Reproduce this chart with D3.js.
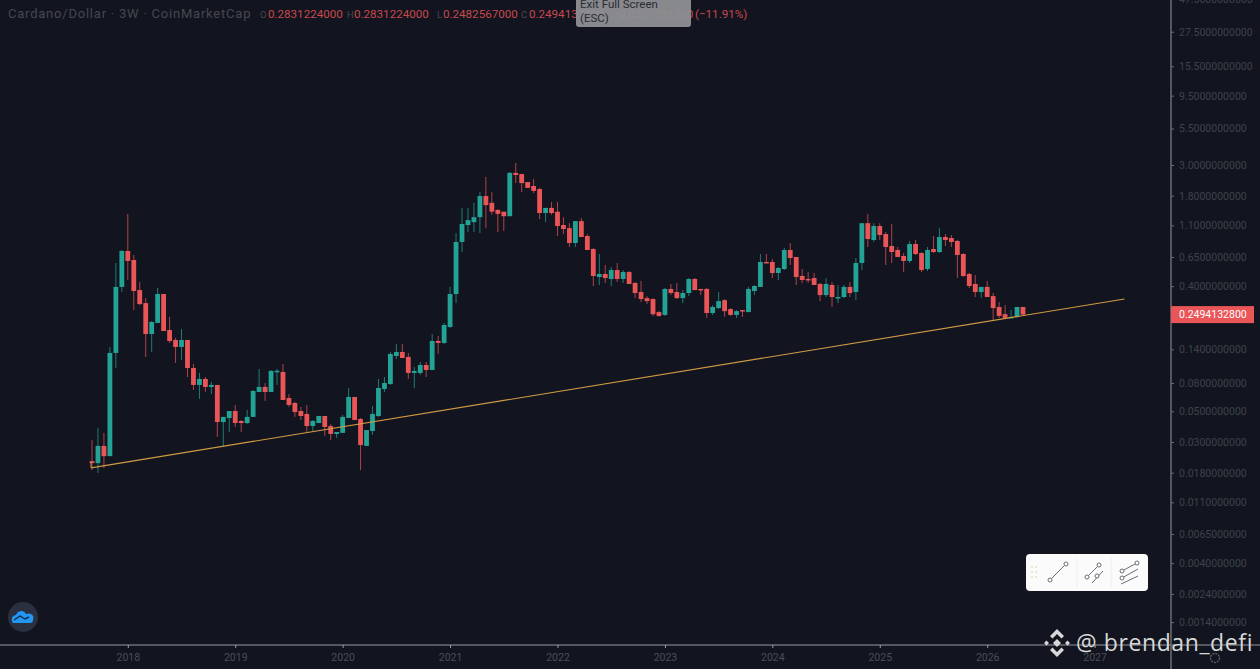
<!DOCTYPE html>
<html><head><meta charset="utf-8">
<script src="https://cdnjs.cloudflare.com/ajax/libs/d3/7.8.5/d3.min.js"></script>
<style>
html,body{margin:0;padding:0;background:#12151f;overflow:hidden}
svg{display:block;font-family:Roboto,sans-serif}
</style></head><body>
<svg id="c" width="1260" height="669"></svg>
<script>
const opens=[.0218,.0211,.0281,.0237,.1318,.395,.718,.618,.375,.302,.1806,.217,.351,.193,.1635,.1456,.1635,.1027,.0774,.0855,.0749,.0774,.0418,.0447,.0502,.0425,.0411,.0455,.0689,.0749,.0689,.0961,.0961,.0623,.0574,.0502,.0478,.0391,.0411,.0462,.0391,.0343,.0349,.0447,.0634,.044,.0281,.036,.0462,.0724,.0787,.1253,.134,.1233,.0945,.0945,.1079,.0993,.1608,.1556,.203,.351,.834,1.105,1.16,1.26,1.79,1.60,1.42,1.38,1.28,2.63,2.58,2.26,2.115,2.01,1.35,1.47,1.38,1.105,1.05,.82,1.18,.921,.742,.466,.49,.451,.523,.451,.506,.422,.363,.328,.323,.26,.248,.382,.363,.328,.357,.451,.382,.382,.256,.278,.317,.273,.248,.269,.26,.369,.395,.598,.598,.498,.532,.73,.65,.474,.451,.458,.415,.345,.408,.328,.334,.395,.363,.588,1.14,.862,1.087,.952,.78,.73,.661,.608,.806,.694,.532,.742,.706,.906,.891,.848,.683,.49,.415,.363,.395,.339,.283,.251,.236,.24,.2831];
const highs=[.031,.0379,.0349,.1456,.588,.73,1.33,.672,.429,.328,.224,.388,.351,.24,.169,.196,.1635,.1097,.0945,.0884,.0814,.0774,.0455,.0502,.0555,.0432,.0511,.0712,.101,.08,.0993,.101,.1097,.0666,.0583,.0537,.0555,.0432,.0462,.0462,.0405,.0354,.047,.0736,.0634,.0447,.0366,.0546,.0855,.0884,.134,.153,.153,.1318,.1044,.1134,.1134,.1806,.1747,.217,.395,.967,1.47,1.47,1.60,1.91,2.46,1.91,1.44,1.38,2.67,3.10,2.58,2.26,2.38,2.05,1.47,1.62,1.62,1.26,1.14,1.18,1.24,.952,.754,.683,.569,.55,.588,.523,.515,.429,.436,.339,.328,.264,.388,.415,.422,.375,.458,.458,.382,.388,.292,.363,.323,.278,.269,.269,.395,.408,.683,.683,.628,.55,.754,.82,.65,.532,.506,.498,.422,.458,.429,.408,.408,.429,.639,1.14,1.33,1.14,1.14,.984,1.125,.767,.694,.848,.862,.706,.767,.921,1.05,.952,.937,.862,.694,.498,.482,.395,.436,.357,.307,.292,.269,.283,.2831];
const lows=[.0188,.0179,.0194,.0237,.1027,.363,.443,.269,.292,.1233,.134,.217,.1898,.1556,.1116,.1173,.0884,.0712,.0613,.0689,.0666,.0326,.0276,.0354,.0385,.0354,.0405,.0455,.0689,.0593,.0689,.0774,.0603,.0537,.0455,.0432,.0354,.036,.0411,.0332,.031,.0321,.0349,.0447,.0432,.0188,.0281,.0337,.0455,.0689,.0774,.1192,.1212,.0855,.0736,.0914,.0884,.0993,.1296,.153,.2,.302,.706,.984,.984,.967,1.05,1.31,.984,1.00,1.28,2.22,1.91,2.05,1.88,1.22,1.16,1.31,.921,.952,.767,.767,.906,.73,.401,.408,.422,.401,.429,.422,.415,.328,.307,.297,.244,.24,.244,.345,.323,.302,.339,.375,.345,.236,.248,.273,.24,.244,.236,.24,.26,.345,.395,.588,.458,.443,.523,.569,.408,.422,.422,.408,.312,.334,.283,.302,.328,.334,.317,.523,.767,.834,.862,.569,.588,.65,.506,.588,.672,.506,.515,.694,.694,.78,.767,.458,.466,.388,.334,.328,.334,.228,.236,.232,.236,.236,.2483];
const closes=[.0211,.0281,.0237,.1318,.395,.718,.608,.369,.297,.1806,.2205,.351,.1898,.1608,.1456,.1635,.1027,.0774,.0855,.0749,.0774,.0418,.0455,.0502,.0411,.0411,.0455,.07,.0749,.0689,.0977,.098,.0603,.0555,.0494,.0462,.0391,.0425,.0462,.0385,.0343,.0354,.0455,.0634,.0432,.0285,.0366,.0478,.0736,.08,.1296,.134,.1212,.0945,.0977,.1079,.0993,.1608,.1556,.2098,.351,.834,1.125,1.20,1.26,1.79,1.54,1.38,1.33,1.28,2.63,2.54,2.22,2.05,1.95,1.35,1.47,1.35,1.087,1.035,.82,1.18,.906,.73,.474,.49,.458,.523,.451,.506,.415,.357,.323,.312,.251,.244,.382,.357,.328,.357,.451,.375,.375,.256,.283,.312,.264,.248,.264,.264,.382,.401,.598,.588,.498,.541,.73,.639,.466,.443,.443,.408,.345,.415,.334,.334,.395,.357,.588,1.14,.876,1.087,.937,.767,.706,.65,.608,.806,.683,.523,.73,.706,.906,.862,.834,.672,.474,.401,.363,.395,.334,.278,.244,.236,.24,.283,.2494];

const priceTicks=[47.5,27.5,15.5,9.5,5.5,3,1.8,1.1,.65,.4,.14,.08,.05,.03,.018,.011,.0065,.004,.0024,.0015];
const priceTickLabels=["47.5000000000","27.5000000000","15.5000000000","9.5000000000","5.5000000000","3.0000000000","1.8000000000","1.1000000000","0.6500000000","0.4000000000","0.1400000000","0.0800000000","0.0500000000","0.0300000000","0.0180000000","0.0110000000","0.0065000000","0.0040000000","0.0024000000","0.0014000000"];
const yearBars=[6,24,42,60,78,96,114,132,150,168];
const yearLabels=["2018","2019","2020","2021","2022","2023","2024","2025","2026","2027"];
const trendBars=[0,173];
const trendPrices=[.0195,.323];
const lastPrice=.2494;
const lastPriceLabel="0.2494132800";

const UP="#22a396",DOWN="#ea5558",BG="#12151f",AXIS="#6b6e7a",TXT="#3f424c";
const svg=d3.select("#c");
svg.append("rect").attr("width",1260).attr("height",669).attr("fill",BG);

const x=d3.scaleLinear().domain([0,156]).range([92,1023]);
const y=d3.scaleLog().domain([46.6,.001026]).range([0,645]);
const bars=d3.range(opens.length).map(i=>({i,o:opens[i],h:highs[i],l:lows[i],c:closes[i]}));
const col=d=>d.c>=d.o?UP:DOWN;

// axes
const ax=svg.append("g").attr("transform","translate(1171,0)").call(
  d3.axisRight(y).tickValues(priceTicks).tickSize(3).tickPadding(5)
    .tickFormat((d,i)=>priceTickLabels[i]));
ax.select(".domain").attr("stroke",AXIS).attr("stroke-width",1.5).attr("d","M0,0V669");
ax.selectAll("line").attr("stroke",AXIS);
ax.selectAll("text").attr("fill",TXT).attr("font-size",10.5).attr("font-family","Roboto,sans-serif");

const bx=svg.append("g").attr("transform","translate(0,645)").call(
  d3.axisBottom(x).tickValues(yearBars).tickSize(3).tickPadding(6)
    .tickFormat((d,i)=>yearLabels[i]));
bx.select(".domain").attr("stroke",AXIS).attr("stroke-width",1.5).attr("d","M0,0H1260");
bx.selectAll("line").attr("stroke","#9a9ca6");
bx.selectAll("text").attr("fill","#4a4d58").attr("font-size",10.5).attr("font-family","Roboto,sans-serif");

// candles
const g=svg.append("g");
g.selectAll("line.w").data(bars).join("line").attr("class","w")
  .attr("x1",d=>x(d.i)).attr("x2",d=>x(d.i)).attr("y1",d=>y(d.h)).attr("y2",d=>y(d.l))
  .attr("stroke",col).attr("stroke-opacity",.72).attr("stroke-width",1);
g.selectAll("rect.b").data(bars).join("rect").attr("class","b")
  .attr("x",d=>x(d.i)-2.4).attr("width",4.8)
  .attr("y",d=>y(Math.max(d.o,d.c)))
  .attr("height",d=>Math.max(1.5,y(Math.min(d.o,d.c))-y(Math.max(d.o,d.c))))
  .attr("fill",col);

// trend line
svg.append("line")
  .attr("x1",x(trendBars[0])-1).attr("y1",y(trendPrices[0]))
  .attr("x2",x(trendBars[1])).attr("y2",y(trendPrices[1]))
  .attr("stroke","#d19a45").attr("stroke-width",1.1);
svg.append("line").attr("x1",x(0)-1).attr("x2",x(0)-1).attr("y1",y(trendPrices[0])-6).attr("y2",y(trendPrices[0]))
  .attr("stroke","#d19a45").attr("stroke-width",1);

// last price tag
const ly=y(lastPrice);
svg.append("rect").attr("x",1171).attr("y",ly-8.5).attr("width",83).attr("height",17).attr("fill",DOWN);
svg.append("text").attr("x",1179).attr("y",ly+3.8).attr("fill","#fff").attr("font-size",10.5).text(lastPriceLabel);

// header
const hdr=svg.append("g").attr("font-size",11.6);
hdr.append("text").attr("x",8).attr("y",18).attr("fill","#454852").attr("font-size",13).attr("letter-spacing",.78).text("Cardano/Dollar · 3W · CoinMarketCap");
[["O",260,"0.2831224000",268],["H",347,"0.2831224000",354],["L",437,"0.2482567000",443],["C",521,"0.2494132800",529]].forEach(a=>{
  hdr.append("text").attr("x",a[1]).attr("y",18).attr("fill","#454852").attr("font-size",9.5).text(a[0]);
  hdr.append("text").attr("x",a[3]).attr("y",18).attr("fill","#c9484c").text(a[2]);
});
hdr.append("text").attr("x",612).attr("y",18).attr("fill","#c9484c").text("−0.0337091200");
hdr.append("text").attr("x",695).attr("y",18).attr("fill","#c9484c").text("(−11.91%)");
svg.append("path").attr("d","M576,0H691V24a3,3 0 0 1 -3,3H579a3,3 0 0 1 -3,-3Z").attr("fill","#8f9095").attr("fill-opacity",.94);
svg.append("text").attr("x",580).attr("y",8).attr("fill","#2a2c33").attr("font-size",11.5).text("Exit Full Screen");
svg.append("text").attr("x",580).attr("y",22).attr("fill","#2a2c33").attr("font-size",11.5).text("(ESC)");

// cloud logo
svg.append("circle").attr("cx",23).attr("cy",617).attr("r",15).attr("fill","#2a3040");
svg.append("path").attr("d","M13,623c-3,-4 0,-8 3,-8c2,-5 8,-5 10,-1c5,-2 9,2 7,6c0,2 -1,3 -3,3Z").attr("fill","#2196f3");
svg.append("path").attr("d","M14,620l6,-4l5,3l4,-2").attr("fill","none").attr("stroke","#0f2a44").attr("stroke-width",1.4);

// drawing toolbar
const tb=svg.append("g");
tb.append("rect").attr("x",1026).attr("y",554).attr("width",122).attr("height",37).attr("rx",4).attr("fill","#fbfbfb");
[1077,1111].forEach(v=>tb.append("line").attr("x1",v).attr("x2",v).attr("y1",558).attr("y2",587).attr("stroke","#eeeeee"));
[[1032,567],[1036,567],[1032,572],[1036,572],[1032,577],[1036,577]].forEach(p=>tb.append("circle").attr("cx",p[0]).attr("cy",p[1]).attr("r",1).attr("fill","#eadfc8"));
const ic=tb.append("g").attr("stroke","#6c6f78").attr("stroke-width",1).attr("fill","#fff");
const seg=(a,b,c,d)=>ic.append("line").attr("x1",a).attr("y1",b).attr("x2",c).attr("y2",d);
const dot=(a,b)=>ic.append("circle").attr("cx",a).attr("cy",b).attr("r",2);
seg(1050,580,1066,564);dot(1050,580);dot(1066,564);
seg(1087,577,1099,565);dot(1087,577);dot(1099,565);seg(1092,583,1103,571);dot(1097,576);
seg(1122,571,1137,563);dot(1122,571);dot(1137,563);seg(1122,578,1138,569);dot(1122,578);seg(1121,584,1138,576);

// watermark
const wm=svg.append("g").attr("fill","#d8d8d8");
wm.append("path").attr("d","M1057,629l7,7l-2.500,2.500l-4.500,-4.500l-4.500,4.500l-2.500,-2.500ZM1057,657l7,-7l-2.500,-2.500l-4.500,4.500l-4.500,-4.500l-2.500,2.500ZM1044,643l2.500,-2.500l2.500,2.500l-2.500,2.500ZM1065,643l2.500,-2.500l2.500,2.500l-2.500,2.500ZM1057,639l4,4l-4,4l-4,-4Z");
wm.append("text").attr("x",1076).attr("y",651).attr("font-size",23).attr("font-family","'Open Sans',sans-serif").attr("letter-spacing",.6).text("@ brendan_defi");
// settings gear
svg.append("circle").attr("cx",1215).attr("cy",658).attr("r",4.5).attr("fill","none").attr("stroke","#55585f").attr("stroke-width",1.5).attr("stroke-dasharray","2 1");
</script>
</body></html>
